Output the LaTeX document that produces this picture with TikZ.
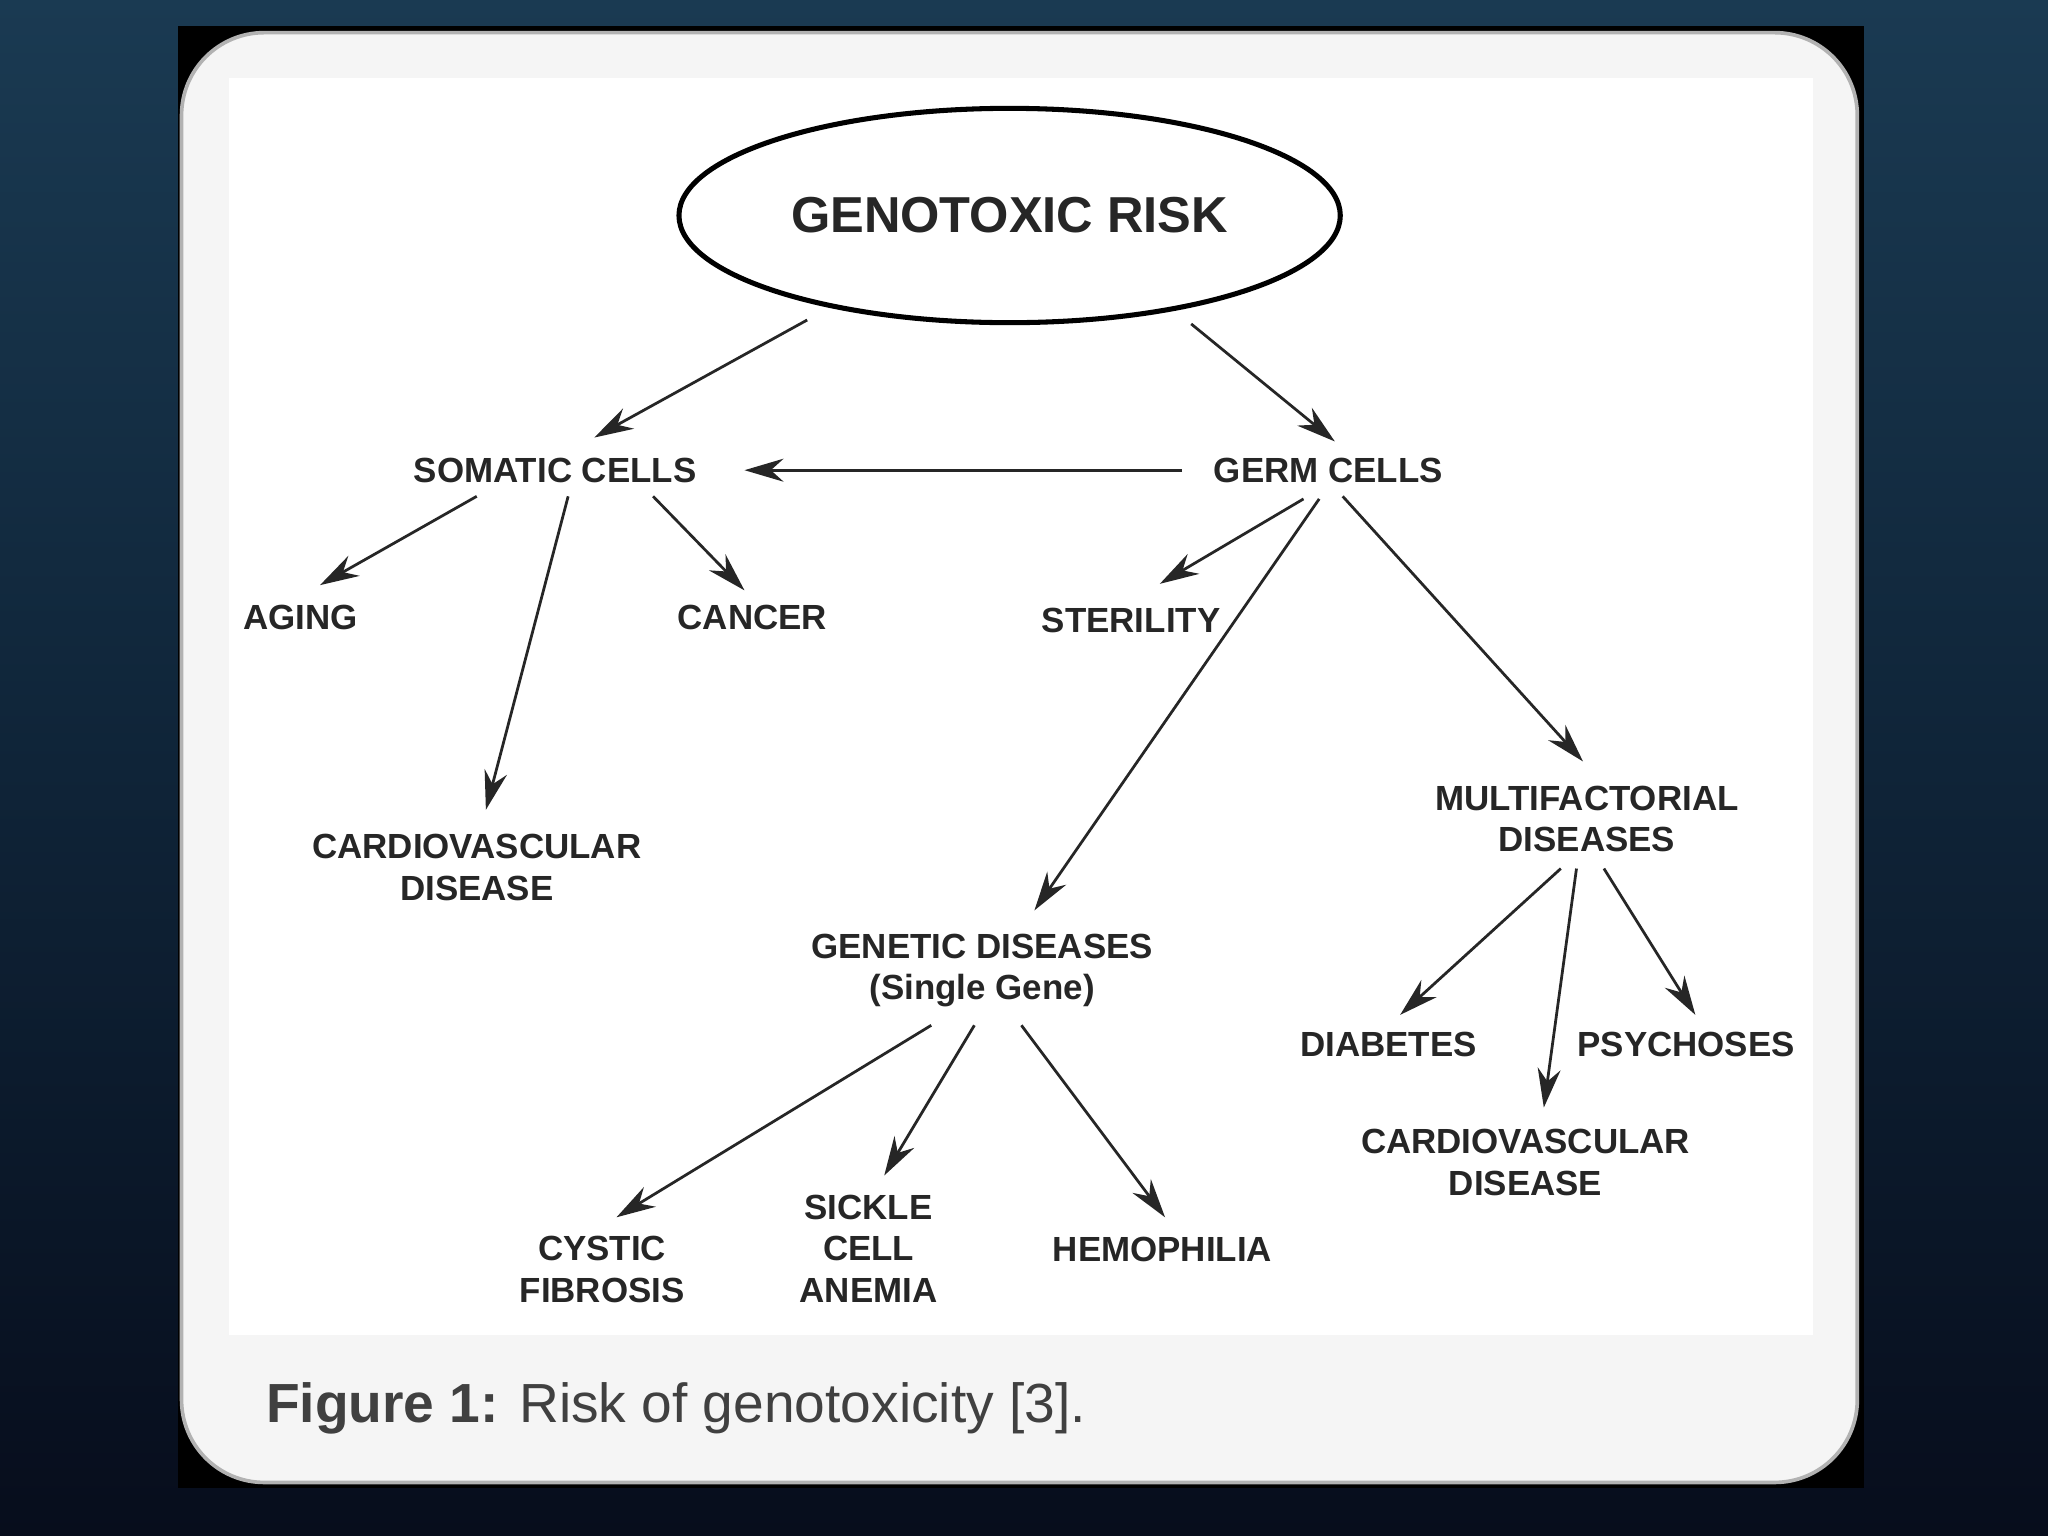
\documentclass[tikz,border=0pt]{standalone}
\usepackage{fontspec}
\setmainfont{Liberation Sans}
\usetikzlibrary{arrows.meta,shapes.geometric}
\definecolor{bgtop}{HTML}{1A3A52}
\definecolor{bgmid}{HTML}{0F2438}
\definecolor{bgbot}{HTML}{070D1C}
\begin{document}
\begin{tikzpicture}[x=0.01cm,y=-0.01cm,
  lbl/.style={font=\bfseries\fontsize{7.6}{9.1}\selectfont,align=center,inner sep=0pt,text=black!85},
  arr/.style={line width=0.6pt,-{Stealth[length=8.5pt,width=5pt]},black!85}]
\shade[top color=bgtop,bottom color=bgbot,middle color=bgmid] (0,0) rectangle (1568,1176);
\useasboundingbox (0,0) rectangle (1568,1176);
\fill[black] (136,20) rectangle (1427,1139);
\filldraw[fill=gray!8,draw=gray!60,line width=0.8pt,rounded corners=18] (139,25) rectangle (1422,1135);
\fill[white] (175,60) rectangle (1388,1022);
\node[anchor=west,inner sep=0pt,font=\fontsize{12}{14}\selectfont,text=black!75] (cap) at (203,1078) {\textbf{Figure 1:} Risk of genotoxicity [3].};
\node[ellipse,draw,line width=1.1pt,minimum width=4.6cm,minimum height=1.64cm,font=\bfseries\fontsize{11}{13}\selectfont,text=black!85] (root) at (773,165) {GENOTOXIC RISK};
\node[lbl] (som) at (425,360) {SOMATIC CELLS};
\node[lbl] (germ) at (1017,360) {GERM CELLS};
\node[lbl] (aging) at (230,473) {AGING};
\node[lbl] (cancer) at (576,473) {CANCER};
\node[lbl] (ster) at (866,475) {STERILITY};
\node[lbl] (cvd1) at (365,664) {CARDIOVASCULAR\\DISEASE};
\node[lbl] (multi) at (1215,627) {MULTIFACTORIAL\\DISEASES};
\node[lbl] (gen) at (752,743) {GENETIC DISEASES\\(Single Gene)};
\node[lbl] (diab) at (1063,800) {DIABETES};
\node[lbl] (psy) at (1291,800) {PSYCHOSES};
\node[lbl] (cvd2) at (1168,890) {CARDIOVASCULAR\\DISEASE};
\node[lbl] (cf) at (461,972) {CYSTIC\\FIBROSIS};
\node[lbl] (sca) at (665,956) {SICKLE\\CELL\\ANEMIA};
\node[lbl] (hemo) at (890,957) {HEMOPHILIA};
\foreach \n/\a/\b/\c/\d in {a1/618/245/455/335, a2/912/248/1022/338, a3/905/360/570/360,
  a4/365/380/245/448, a5/435/380/372/620, a6/500/380/570/452, a7/998/382/888/447,
  a8/1010/382/792/697, a9/1028/380/1212/583, a10/1195/665/1072/777, a11/1207/665/1182/848,
  a12/1228/665/1298/777, a13/713/785/472/932, a14/746/785/677/900, a15/782/785/892/932}{
  \coordinate (\n s) at (\a,\b); \coordinate (\n e) at (\c,\d);
  \draw[arr] (\n s) -- (\n e);}
\end{tikzpicture}
\end{document}
